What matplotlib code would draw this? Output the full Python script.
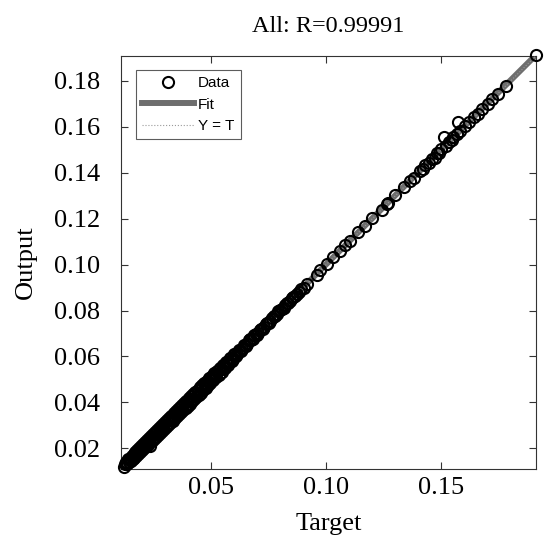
import numpy as np
import matplotlib
matplotlib.use("Agg")
import matplotlib.pyplot as plt
from matplotlib.lines import Line2D

target = [
    0.0125, 0.0132, 0.0138, 0.0141, 0.0147, 0.0152, 0.0156, 0.0161, 0.0165, 0.0168,
    0.0172, 0.0177, 0.0181, 0.0185, 0.0189, 0.0193, 0.0197, 0.0201, 0.0205, 0.0209,
    0.0213, 0.0218, 0.0222, 0.0226, 0.0231, 0.0235, 0.0239, 0.0244, 0.0248, 0.0252,
    0.0257, 0.0261, 0.0266, 0.0270, 0.0274, 0.0279, 0.0283, 0.0288, 0.0292, 0.0297,
    0.0301, 0.0306, 0.0311, 0.0315, 0.0320, 0.0324, 0.0329, 0.0334, 0.0338, 0.0343,
    0.0347, 0.0352, 0.0357, 0.0361, 0.0366, 0.0371, 0.0375, 0.0380, 0.0385, 0.0390,
    0.0394, 0.0399, 0.0404, 0.0409, 0.0413, 0.0418, 0.0423, 0.0428, 0.0433, 0.0437,
    0.0442, 0.0447, 0.0452, 0.0457, 0.0462, 0.0467, 0.0472, 0.0477, 0.0482, 0.0487,
    0.0493, 0.0498, 0.0504, 0.0510, 0.0515, 0.0521, 0.0527, 0.0533, 0.0540, 0.0546,
    0.0553, 0.0560, 0.0567, 0.0575, 0.0583, 0.0591, 0.0600, 0.0610, 0.0620, 0.0631,
    0.0642, 0.0653, 0.0664, 0.0676, 0.0688, 0.0700, 0.0712, 0.0725, 0.0738, 0.0751,
    0.0765, 0.0779, 0.0793, 0.0808, 0.0822, 0.0836, 0.0850, 0.0866, 0.0880,
    0.0915, 0.0958, 0.0975, 0.1005, 0.1030, 0.1060, 0.1082, 0.1105, 0.1140, 0.1170,
    0.1200, 0.1240, 0.1262, 0.1270, 0.1300, 0.1338, 0.1362, 0.1380, 0.1405, 0.1418,
    0.1430, 0.1445, 0.1458, 0.1470, 0.1482, 0.1490, 0.1500, 0.1509, 0.1520, 0.1532,
    0.1545, 0.1552, 0.1570, 0.1568, 0.1580, 0.1600, 0.1618, 0.1640, 0.1660, 0.1675,
    0.1700, 0.1720, 0.1745, 0.1778, 0.1910,
    0.0128, 0.0145, 0.0159, 0.0174, 0.0187, 0.0199, 0.0211, 0.0224, 0.0237, 0.0250,
    0.0263, 0.0276, 0.0290, 0.0304, 0.0318, 0.0331, 0.0345, 0.0359, 0.0373, 0.0387,
    0.0401, 0.0415, 0.0430, 0.0444, 0.0459, 0.0474, 0.0489, 0.0501, 0.0512, 0.0524,
    0.0536, 0.0549, 0.0556, 0.0563, 0.0571, 0.0579, 0.0587, 0.0595, 0.0605, 0.0615,
    0.0625, 0.0636, 0.0647, 0.0658, 0.0670, 0.0682, 0.0694, 0.0706, 0.0718, 0.0731,
    0.0744, 0.0758, 0.0772, 0.0786, 0.0800, 0.0815, 0.0829, 0.0843, 0.0858, 0.0873,
    0.0890, 0.0902,
]

output = [
    0.0120, 0.0141, 0.0131, 0.0152, 0.0155, 0.0143, 0.0168, 0.0153, 0.0177, 0.0160,
    0.0185, 0.0168, 0.0193, 0.0176, 0.0201, 0.0184, 0.0210, 0.0192, 0.0218, 0.0200,
    0.0226, 0.0208, 0.0235, 0.0216, 0.0244, 0.0209, 0.0252, 0.0233, 0.0262, 0.0241,
    0.0270, 0.0250, 0.0279, 0.0258, 0.0288, 0.0267, 0.0297, 0.0276, 0.0306, 0.0285,
    0.0315, 0.0294, 0.0325, 0.0303, 0.0334, 0.0312, 0.0343, 0.0321, 0.0352, 0.0330,
    0.0361, 0.0339, 0.0371, 0.0348, 0.0380, 0.0357, 0.0389, 0.0366, 0.0399, 0.0376,
    0.0408, 0.0385, 0.0418, 0.0395, 0.0427, 0.0404, 0.0437, 0.0414, 0.0446, 0.0423,
    0.0456, 0.0433, 0.0465, 0.0443, 0.0475, 0.0453, 0.0485, 0.0463, 0.0495, 0.0474,
    0.0505, 0.0485, 0.0516, 0.0497, 0.0527, 0.0509, 0.0538, 0.0521, 0.0551, 0.0534,
    0.0563, 0.0549, 0.0577, 0.0565, 0.0592, 0.0582, 0.0609, 0.0601, 0.0628, 0.0623,
    0.0649, 0.0646, 0.0670, 0.0670, 0.0693, 0.0695, 0.0716, 0.0721, 0.0742, 0.0747,
    0.0768, 0.0776, 0.0796, 0.0805, 0.0825, 0.0833, 0.0853, 0.0863, 0.0882,
    0.0917, 0.0956, 0.0978, 0.1003, 0.1032, 0.1058, 0.1085, 0.1103, 0.1142, 0.1168,
    0.1202, 0.1238, 0.1265, 0.1268, 0.1302, 0.1336, 0.1365, 0.1378, 0.1408, 0.1415,
    0.1434, 0.1442, 0.1462, 0.1466, 0.1486, 0.1487, 0.1504, 0.1555, 0.1516, 0.1536,
    0.1541, 0.1557, 0.1622, 0.1571, 0.1584, 0.1604, 0.1620, 0.1642, 0.1658, 0.1678,
    0.1698, 0.1722, 0.1743, 0.1780, 0.1912,
    0.0131, 0.0141, 0.0163, 0.0170, 0.0191, 0.0195, 0.0215, 0.0220, 0.0241, 0.0246,
    0.0267, 0.0271, 0.0295, 0.0299, 0.0323, 0.0326, 0.0350, 0.0354, 0.0378, 0.0382,
    0.0406, 0.0410, 0.0435, 0.0439, 0.0464, 0.0469, 0.0494, 0.0496, 0.0517, 0.0519,
    0.0541, 0.0544, 0.0561, 0.0558, 0.0576, 0.0574, 0.0592, 0.0590, 0.0610, 0.0610,
    0.0630, 0.0631, 0.0652, 0.0654, 0.0674, 0.0678, 0.0698, 0.0702, 0.0721, 0.0728,
    0.0747, 0.0755, 0.0775, 0.0783, 0.0803, 0.0812, 0.0832, 0.0840, 0.0861, 0.0870,
    0.0892, 0.0900,
]

xticks = [0.05, 0.10, 0.15]
yticks = [0.02, 0.04, 0.06, 0.08, 0.10, 0.12, 0.14, 0.16, 0.18]
lims = [0.011, 0.191]
title = "All: R=0.99991"

t = np.array(target)
y = np.array(output)

fig = plt.figure(figsize=(5.5, 5.5), dpi=100)
ax = fig.add_axes([121/550, 1 - 469/550, (536-121)/550, (469-55.7)/550])

serif = ["Liberation Serif", "DejaVu Serif"]
sans = ["Liberation Sans", "DejaVu Sans"]

coef = np.polyfit(t, y, 1)
xl = np.array(lims)
ax.plot(xl, np.polyval(coef, xl), color="#6e6e6e", linewidth=4.3, zorder=2,
        solid_capstyle="butt")
ax.plot(xl, xl, color="#9a9a9a", linewidth=0.8, linestyle=":", zorder=3)
ax.plot(t, y, linestyle="none", marker="o", markersize=8, markerfacecolor="none",
        markeredgecolor="black", markeredgewidth=1.5, clip_on=False, zorder=4)

ax.set_xlim(lims)
ax.set_ylim(lims)
ax.set_xticks(xticks)
ax.set_yticks(yticks)
ax.set_xticklabels([f"{v:.2f}" for v in xticks], fontfamily=serif, fontsize=19)
ax.set_yticklabels([f"{v:.2f}" for v in yticks], fontfamily=serif, fontsize=19)
ax.tick_params(direction="in", top=True, right=True, length=5, width=0.8,
               color="#333333")
ax.tick_params(axis="x", pad=6)
ax.tick_params(axis="y", pad=15)
for s in ax.spines.values():
    s.set_linewidth(0.8)
    s.set_color("#333333")

ax.set_xlabel("Target", fontfamily=serif, fontsize=19, labelpad=9.5)
ax.set_ylabel("Output", fontfamily=serif, fontsize=19, labelpad=12)
ax.set_title(title, fontfamily=serif, fontsize=17.5, pad=17)

handles = [
    Line2D([], [], linestyle="none", marker="o", markersize=8, markerfacecolor="none",
           markeredgecolor="black", markeredgewidth=1.5),
    Line2D([], [], color="#6e6e6e", linewidth=4.3),
    Line2D([], [], color="#9a9a9a", linewidth=0.8, linestyle=":"),
]
leg = ax.legend(handles, ["Data", "Fit", "Y = T"], loc="upper left",
                bbox_to_anchor=(0.035, 0.965), prop={"family": sans, "size": 11},
                frameon=True, fancybox=False, edgecolor="#333333",
                handlelength=3.45, handletextpad=0.25, borderpad=0.4, labelspacing=0.48,
                borderaxespad=0.0)
leg.get_frame().set_linewidth(0.8)

fig.savefig("out.png", dpi=100)
